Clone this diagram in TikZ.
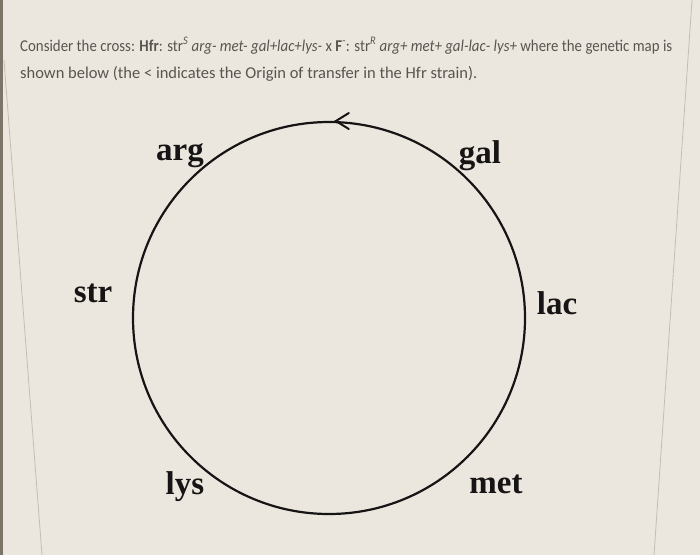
\documentclass[tikz,border=0pt]{standalone}
\usepackage[rgb]{xcolor}
\usepackage{fontspec}
\setmainfont{Liberation Serif}
\newfontfamily\promptfont{Carlito}
\usepackage{tikz}
\usetikzlibrary{calc}

\definecolor{screen}{RGB}{236,231,222}
\definecolor{bezel}{RGB}{125,116,104}
\definecolor{edgeline}{RGB}{196,189,178}
\definecolor{prompt}{RGB}{88,84,80}
\definecolor{ink}{RGB}{22,20,20}

\tikzset{
  gene/.style={font=\bfseries\fontsize{33}{33}\selectfont, text=ink, inner sep=0pt},
  prompttext/.style={font=\promptfont\fontsize{16.5}{18}\selectfont, text=prompt, anchor=base west, inner sep=0pt}
}

\begin{document}
\begin{tikzpicture}[x=1pt, y=-1pt]

% photographed screen
 \fill[screen] (0,0) rectangle (700,555);
 \useasboundingbox (0,0) rectangle (700,555);
 \fill[bezel] (0,0) rectangle (3,555);
 \draw[edgeline, line width=0.8pt] (4,60) -- (42,555);
 \draw[edgeline, line width=0.8pt] (692,0) -- (654,555);

% the question
 \node[prompttext] (line1) at (20,51)
  {\resizebox{652pt}{\height}{Consider the cross: \textbf{Hfr}: str\textsuperscript{\textit{S}} \textit{arg- met- gal+lac+lys-} x \textbf{F}\textsuperscript{-}: str\textsuperscript{\textit{R}} \textit{arg+ met+ gal-lac- lys+} where the genetic map is}};
 \node[prompttext] (line2) at (20,78)
  {shown below (the < indicates the Origin of transfer in the Hfr strain).};

% the circular map
 \node[circle, draw=ink, line width=2.2pt, minimum size=392pt, inner sep=0pt] (chrom) at (329,318) {};

% origin of transfer
 \coordinate (ori) at (chrom.88);
 \draw[ink, line width=2pt, line cap=round] ($(ori)+(13,-8)$) -- (ori) -- ($(ori)+(13,8)$);

% genes
 \node[gene] (arg) at (180,156) {arg};
 \node[gene] (gal) at (480,156) {gal};
 \node[gene] (str) at (93,293) {str};
 \node[gene] (lac) at (557,303) {lac};
 \node[gene] (lys) at (185,487) {lys};
 \node[gene] (met) at (496,484) {met};

\end{tikzpicture}
\end{document}
